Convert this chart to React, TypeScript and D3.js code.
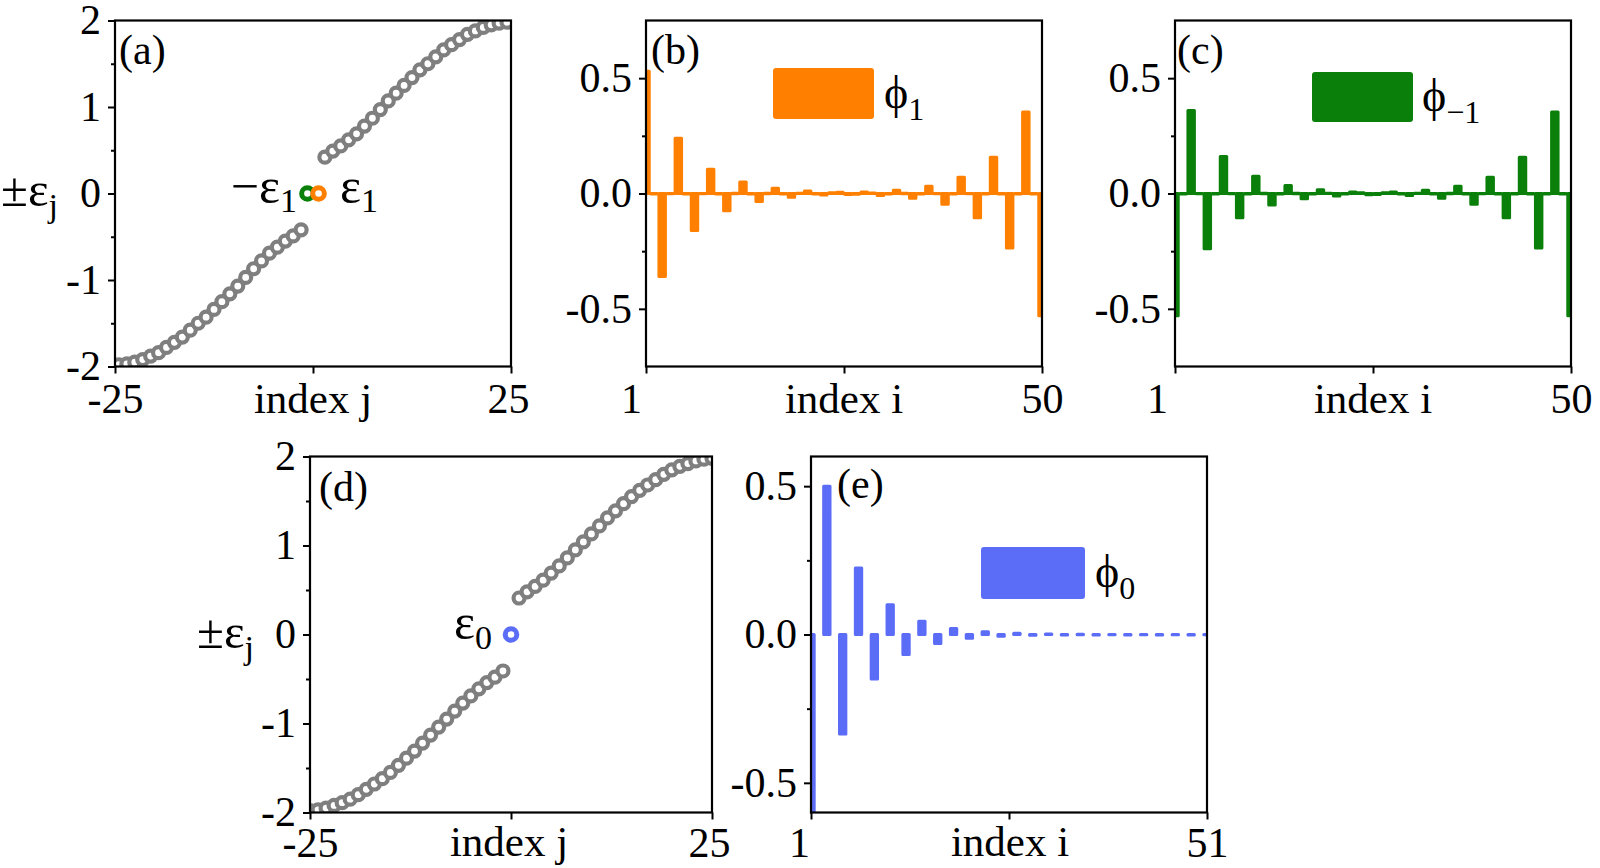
import { useEffect, useRef } from "react";
import * as d3 from "d3";

const W = 1600;
const H = 868;
const FONT = "'Liberation Serif', 'Times New Roman', serif";

const GRAY = "#7f7f7f";
const ORANGE = "#ff8000";
const GREEN = "#0a800a";
const BLUE = "#5b6cf7";

// (a) spectrum of the 50-site chain
const jLowerA = d3.range(-24.5, -1, 1);
const epsLowerA = [-1.98, -1.97, -1.95, -1.92, -1.88, -1.84, -1.78, -1.72, -1.66, -1.58, -1.5, -1.43,
  -1.34, -1.25, -1.16, -1.07, -0.97, -0.87, -0.78, -0.69, -0.62, -0.55, -0.49, -0.42];
const jUpperA = d3.range(1.5, 25, 1);
const epsUpperA = [0.42, 0.49, 0.55, 0.62, 0.69, 0.78, 0.87, 0.97, 1.07, 1.16, 1.25, 1.34,
  1.43, 1.5, 1.58, 1.66, 1.72, 1.78, 1.84, 1.88, 1.92, 1.95, 1.97, 1.98];
const jEdgeA = [-0.7, 0.7];
const epsEdgeA = [0, 0];

// (b), (c) edge-state amplitudes on sites 1..50
const siteBC = d3.range(1, 51);
const phi1 = [0.53, -0.0002, -0.36, 0.0003, 0.24, -0.0004, -0.16, 0.0005, 0.105, -0.0006,
  -0.075, 0.0008, 0.05, -0.0004, -0.035, 0.0006, 0.023, -0.0008, -0.016, 0.0012,
  0.011, -0.0018, -0.007, 0.003, 0.005, -0.004, -0.003, 0.006, 0.002, -0.009,
  -0.0012, 0.014, 0.0008, -0.021, -0.0006, 0.031, 0.0004, -0.047, -0.0003, 0.07,
  0.0002, -0.105, -0.0001, 0.157, 0.0001, -0.236, -0.0001, 0.353, 0.0001, -0.53];
const phiM1 = [-0.53, -0.0002, 0.36, 0.0003, -0.24, -0.0004, 0.16, 0.0005, -0.105, -0.0006,
  0.075, 0.0008, -0.05, -0.0004, 0.035, 0.0006, -0.023, -0.0008, 0.016, 0.0012,
  -0.011, -0.0018, 0.007, 0.003, -0.005, -0.004, 0.003, 0.006, -0.002, -0.009,
  0.0012, 0.014, -0.0008, -0.021, 0.0006, 0.031, -0.0004, -0.047, 0.0003, 0.07,
  -0.0002, -0.105, 0.0001, 0.157, -0.0001, -0.236, 0.0001, 0.353, -0.0001, -0.53];

// (d) spectrum of the 51-site chain
const jLowerD = d3.range(-25, 0);
const epsLowerD = [-1.98, -1.97, -1.95, -1.92, -1.89, -1.85, -1.8, -1.74, -1.68, -1.62, -1.55, -1.47, -1.39,
  -1.31, -1.22, -1.13, -1.04, -0.95, -0.86, -0.77, -0.69, -0.61, -0.54, -0.48, -0.41];
const jUpperD = d3.range(1, 26);
const epsUpperD = [0.41, 0.48, 0.54, 0.61, 0.69, 0.77, 0.86, 0.95, 1.04, 1.13, 1.22, 1.31, 1.39,
  1.47, 1.55, 1.62, 1.68, 1.74, 1.8, 1.85, 1.89, 1.92, 1.95, 1.97, 1.98];
const jZeroD = [0];
const epsZeroD = [0];

// (e) zero mode on sites 1..51
const siteE = d3.range(1, 52);
const phi0 = [-0.74, 0, 0.5, 0, -0.335, 0, 0.224, 0, -0.15, 0, 0.1, 0, -0.067, 0, 0.045, 0,
  -0.03, 0, 0.02, 0, -0.013, 0, 0.009, 0, -0.006, 0, 0.004, 0, -0.0027, 0, 0.0018, 0,
  -0.0012, 0, 0.0008, 0, -0.0005, 0, 0.0004, 0, -0.0002, 0, 0.0002, 0, -0.0001, 0,
  0.0001, 0, -0.0001, 0, 0.0001];

type Box = { x0: number; x1: number; y0: number; y1: number };
type Sel = d3.Selection<any, unknown, null, undefined>;

function panel(svg: Sel, name: string, b: Box, xd: number[], yd: number[]) {
  const x = d3.scaleLinear().domain(xd).range([b.x0, b.x1]);
  const y = d3.scaleLinear().domain(yd).range([b.y1, b.y0]);
  svg.append("clipPath").attr("id", "clip-" + name)
    .append("rect")
    .attr("x", b.x0).attr("y", b.y0)
    .attr("width", b.x1 - b.x0).attr("height", b.y1 - b.y0);
  const g = svg.append("g");
  const plot = g.append("g").attr("clip-path", `url(#clip-${name})`);
  return { x, y, g, plot };
}

function axes(g: Sel, x: any, y: any, b: Box, o: any) {
  const xa = g.append("g")
    .attr("transform", `translate(0,${b.y1})`)
    .call(d3.axisBottom(x).tickValues(o.xTicks).tickSize(7).tickPadding(o.xPad)
      .tickFormat((_d: any, i: number) => o.xLabels[i]));
  xa.selectAll("text").attr("dx", (_d: any, i: number) => (o.xShift ? o.xShift[i] : 0));

  const ya = g.append("g")
    .attr("transform", `translate(${b.x0},0)`)
    .call(d3.axisLeft(y).tickValues(o.yTicks).tickSize(7).tickPadding(7)
      .tickFormat((_d: any, i: number) => o.yLabels[i]));
  const ym = g.append("g")
    .attr("transform", `translate(${b.x0},0)`)
    .call(d3.axisLeft(y).tickValues(o.yMinor).tickSize(4).tickFormat(() => ""));

  [xa, ya, ym].forEach((a) => {
    a.select(".domain").remove();
    a.attr("font-family", FONT).attr("font-size", 42);
    a.selectAll("line").attr("stroke", "#000").attr("stroke-width", 2);
    a.selectAll("text").attr("fill", "#000");
  });

  g.append("rect")
    .attr("x", b.x0).attr("y", b.y0)
    .attr("width", b.x1 - b.x0).attr("height", b.y1 - b.y0)
    .attr("fill", "none").attr("stroke", "#000").attr("stroke-width", 2.2);
}

function rings(plot: Sel, x: any, y: any, xs: number[], ys: number[], color: string, r: number, sw: number) {
  plot.append("g").selectAll("circle")
    .data(xs.map((v, i) => [v, ys[i]]))
    .enter().append("circle")
    .attr("cx", (d) => x(d[0]))
    .attr("cy", (d) => y(d[1]))
    .attr("r", r)
    .attr("fill", "#fff")
    .attr("stroke", color)
    .attr("stroke-width", sw);
}

function bars(plot: Sel, x: any, y: any, xs: number[], vs: number[], color: string) {
  const w = (x(2) - x(1)) * 0.8;
  plot.append("g").selectAll("rect")
    .data(xs.map((v, i) => [v, vs[i]]).filter((d) => d[1] !== 0))
    .enter().append("rect")
    .attr("x", (d) => x(d[0]) - w / 2)
    .attr("y", (d) => Math.min(y(0), y(d[1])))
    .attr("width", w)
    .attr("height", (d) => Math.max(0.4, Math.abs(y(d[1]) - y(0))))
    .attr("fill", color)
    .attr("stroke", color)
    .attr("stroke-width", 3)
    .attr("stroke-linejoin", "round");
}

function label(svg: Sel, xp: number, yp: number, main: string, sub: string, o: any = {}) {
  const t = svg.append("text")
    .attr("x", xp).attr("y", yp)
    .attr("font-family", FONT)
    .attr("font-size", o.size || 44)
    .attr("text-anchor", o.anchor || "start")
    .attr("fill", "#000");
  t.append("tspan").text(main);
  if (sub) {
    t.append("tspan").attr("font-size", o.subSize || 31).attr("dy", o.subDy || 10).text(sub);
  }
}

function legend(svg: Sel, bx: number, by: number, bw: number, bh: number, color: string, tx: number, ty: number, sub: string) {
  svg.append("rect").attr("x", bx).attr("y", by).attr("width", bw).attr("height", bh)
    .attr("rx", 3).attr("fill", color);
  label(svg, tx, ty, "ϕ", sub, { size: 46, subSize: 32, subDy: 12 });
}

function draw(svg: Sel) {
  const spectrumAxis = (xPad: number) => ({
    xTicks: [-25, 0, 25], xLabels: ["-25", "", "25"], xPad, xShift: [0, 0, -3],
    yTicks: [-2, -1, 0, 1, 2], yLabels: ["-2", "-1", "0", "1", "2"],
    yMinor: [-1.5, -0.5, 0.5, 1.5],
  });

  // (a)
  const bA = { x0: 115, x1: 511, y0: 20.5, y1: 366.5 };
  const a = panel(svg, "a", bA, [-25, 25], [-2, 2]);
  rings(a.plot, a.x, a.y, jLowerA, epsLowerA, GRAY, 5.5, 4.2);
  rings(a.plot, a.x, a.y, jUpperA, epsUpperA, GRAY, 5.5, 4.2);
  rings(a.plot, a.x, a.y, [jEdgeA[0]], [epsEdgeA[0]], GREEN, 5.8, 5);
  rings(a.plot, a.x, a.y, [jEdgeA[1]], [epsEdgeA[1]], ORANGE, 5.8, 5);
  axes(a.g, a.x, a.y, bA, spectrumAxis(10));

  // (b)
  const bB = { x0: 646, x1: 1042, y0: 20.5, y1: 366.5 };
  const pb = panel(svg, "b", bB, [1, 50], [-0.75, 0.75]);
  bars(pb.plot, pb.x, pb.y, siteBC, phi1, ORANGE);
  const waveAxis = {
    xTicks: [1, 25.5, 50], xLabels: ["1", "", "50"], xPad: 10, xShift: [-15, 0, 0],
    yTicks: [-0.5, 0, 0.5], yLabels: ["-0.5", "0.0", "0.5"], yMinor: [-0.25, 0.25],
  };
  axes(pb.g, pb.x, pb.y, bB, waveAxis);

  // (c)
  const bC = { x0: 1175, x1: 1571, y0: 20.5, y1: 366.5 };
  const pc = panel(svg, "c", bC, [1, 50], [-0.75, 0.75]);
  bars(pc.plot, pc.x, pc.y, siteBC, phiM1, GREEN);
  axes(pc.g, pc.x, pc.y, bC, { ...waveAxis, xShift: [-18, 0, 0] });

  // (d)
  const bD = { x0: 310, x1: 712, y0: 456.5, y1: 812.5 };
  const pd = panel(svg, "d", bD, [-25, 25], [-2, 2]);
  rings(pd.plot, pd.x, pd.y, jLowerD, epsLowerD, GRAY, 5.5, 4.2);
  rings(pd.plot, pd.x, pd.y, jUpperD, epsUpperD, GRAY, 5.5, 4.2);
  rings(pd.plot, pd.x, pd.y, jZeroD, epsZeroD, BLUE, 5.8, 5);
  axes(pd.g, pd.x, pd.y, bD, spectrumAxis(8));

  // (e)
  const bE = { x0: 811, x1: 1207, y0: 456.5, y1: 812.5 };
  const pe = panel(svg, "e", bE, [1, 51], [-0.6, 0.6]);
  bars(pe.plot, pe.x, pe.y, siteE, phi0, BLUE);
  axes(pe.g, pe.x, pe.y, bE, {
    xTicks: [1, 26, 51], xLabels: ["1", "", "51"], xPad: 8, xShift: [-12, 0, 0],
    yTicks: [-0.5, 0, 0.5], yLabels: ["-0.5", "0.0", "0.5"], yMinor: [-0.25, 0.25],
  });

  // axis titles
  const title = (xp: number, yp: number, s: string) =>
    svg.append("text").attr("x", xp).attr("y", yp).attr("text-anchor", "middle")
      .attr("font-family", FONT).attr("font-size", 43).attr("fill", "#000").text(s);
  title(313, 413, "index j");
  title(844, 413, "index i");
  title(1373, 413, "index i");
  title(509, 856, "index j");
  title(1010, 856, "index i");

  label(svg, 1, 206, "±ε", "j", { size: 49, subSize: 34, subDy: 11 });
  label(svg, 197, 648, "±ε", "j", { size: 49, subSize: 34, subDy: 11 });

  // panel tags
  const tag = (xp: number, yp: number, s: string) =>
    svg.append("text").attr("x", xp).attr("y", yp)
      .attr("font-family", FONT).attr("font-size", 42).attr("fill", "#000").text(s);
  tag(119, 64, "(a)");
  tag(651, 64, "(b)");
  tag(1177, 64, "(c)");
  tag(319, 501, "(d)");
  tag(837, 498, "(e)");

  // state labels
  label(svg, 297, 203, "−ε", "1", { anchor: "end", size: 50, subSize: 34, subDy: 9 });
  label(svg, 340, 203, "ε", "1", { size: 50, subSize: 34, subDy: 9 });
  label(svg, 454, 639, "ε", "0", { size: 50, subSize: 34, subDy: 10 });

  legend(svg, 773, 68, 101, 51, ORANGE, 884, 108, "1");
  legend(svg, 1312, 72, 101, 50, GREEN, 1422, 111, "−1");
  legend(svg, 981, 547, 104, 52, BLUE, 1095, 587, "0");
}

export default function App() {
  const ref = useRef<SVGSVGElement>(null);

  useEffect(() => {
    const svg = d3.select(ref.current) as Sel;
    svg.selectAll("*").remove();
    draw(svg);
  }, []);

  return (
    <svg
      ref={ref}
      width={W}
      height={H}
      style={{ position: "absolute", left: 0, top: 0, background: "#fff" }}
    />
  );
}
